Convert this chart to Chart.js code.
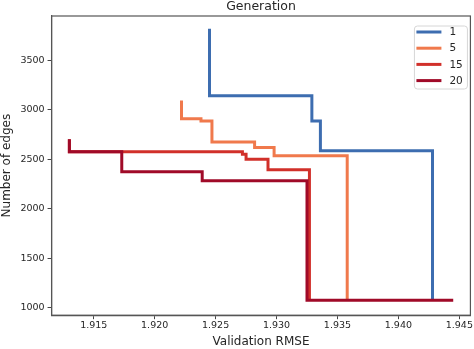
<!DOCTYPE html>
<html>
<head>
<meta charset="utf-8">
<script src="https://cdn.jsdelivr.net/npm/chart.js@4.4.1/dist/chart.umd.min.js"></script>
<style>
  html, body { margin: 0; padding: 0; background: #fff; }
  #wrap { width: 474px; height: 349px; }
</style>
</head>
<body>
<div id="wrap"><canvas id="generation-chart" width="474" height="349"></canvas></div>
<script>
// valores (vertices de cada escalon)
const seriesNames = ['1', '5', '15', '20'];
const seriesColors = ['#3d6db0', '#f0794c', '#d1302a', '#a00a28'];

const rmseGen1 = [1.9245, 1.9329, 1.9336, 1.9428, 1.9428];
const edgesGen1 = [3815, 3140, 2885, 2585, 1075];

const rmseGen5 = [1.9222, 1.9238, 1.9247, 1.9282, 1.9298, 1.9358, 1.9358];
const edgesGen5 = [3092, 2907, 2885, 2674, 2618, 2534, 1075];

const rmseGen15 = [1.9130, 1.9272, 1.9275, 1.9293, 1.9327, 1.9327];
const edgesGen15 = [2700, 2575, 2550, 2500, 2393, 1075];

const rmseGen20 = [1.9130, 1.9173, 1.9239, 1.9325, 1.9445];
const edgesGen20 = [2700, 2575, 2373, 2283, 1077];

const xTicks = [1.915, 1.920, 1.925, 1.930, 1.935, 1.940, 1.945];
const yTicks = [1000, 1500, 2000, 2500, 3000, 3500];

const rmseAll = [rmseGen1, rmseGen5, rmseGen15, rmseGen20];
const edgesAll = [edgesGen1, edgesGen5, edgesGen15, edgesGen20];

const textColor = '#262626';
const fontFamily = "'DejaVu Sans', sans-serif";

// marco completo alrededor del area (como matplotlib)
const framePlugin = {
  id: 'frame',
  afterDatasetsDraw(chart) {
    const { ctx, chartArea: a } = chart;
    ctx.save();
    ctx.strokeStyle = '#555';
    ctx.lineWidth = 1.2;
    ctx.strokeRect(a.left, a.top, a.right - a.left, a.bottom - a.top);
    ctx.restore();
  },
};

// titulo centrado sobre el area del grafico
const titlePlugin = {
  id: 'plotTitle',
  afterDraw(chart) {
    const { ctx, chartArea: a } = chart;
    ctx.save();
    ctx.fillStyle = textColor;
    ctx.font = '12.5px ' + fontFamily;
    ctx.textAlign = 'center';
    ctx.textBaseline = 'middle';
    ctx.fillText('Generation', (a.left + a.right) / 2, 7);
    ctx.restore();
  },
};

// leyenda dentro del area, arriba a la derecha
const legendPlugin = {
  id: 'insideLegend',
  afterDraw(chart) {
    const { ctx, chartArea: a } = chart;
    const sets = chart.data.datasets;
    const w = 53, rowH = 16.2, h = 63;
    const x0 = a.right - w - 3, y0 = a.top + 10;
    ctx.save();
    ctx.fillStyle = 'rgba(255,255,255,0.85)';
    ctx.strokeStyle = '#d6d6d6';
    ctx.lineWidth = 1;
    ctx.beginPath();
    ctx.roundRect(x0, y0, w, h, 3);
    ctx.fill();
    ctx.stroke();
    ctx.font = '10.5px ' + fontFamily;
    ctx.textBaseline = 'middle';
    sets.forEach((ds, i) => {
      const y = y0 + 6 + i * rowH;
      ctx.strokeStyle = ds.borderColor;
      ctx.lineWidth = 3;
      ctx.beginPath();
      ctx.moveTo(x0 + 2, y);
      ctx.lineTo(x0 + 27, y);
      ctx.stroke();
      ctx.fillStyle = textColor;
      ctx.fillText(ds.label, x0 + 35, y + 0.5);
    });
    ctx.restore();
  },
};

(async function () {
  new Chart(document.getElementById('generation-chart'), {
    type: 'scatter',
    plugins: [framePlugin, titlePlugin, legendPlugin],
    data: {
      datasets: seriesNames.map((name, i) => ({
        label: name,
        data: rmseAll[i].map((x, j) => ({ x: x, y: edgesAll[i][j] })),
        showLine: true,
        stepped: 'after', // primero vertical, luego horizontal
        borderColor: seriesColors[i],
        backgroundColor: seriesColors[i],
        borderWidth: 3,
        pointRadius: 0,
        borderJoinStyle: 'miter',
        borderCapStyle: 'butt',
        order: seriesNames.length - i, // la ultima serie queda encima
      })),
    },
    options: {
      responsive: false,
      animation: false,
      devicePixelRatio: 1,
      layout: {
        padding: { top: 16, right: 3, left: 0, bottom: 0 },
      },
      plugins: {
        legend: { display: false },
        tooltip: { enabled: false },
        title: { display: false },
      },
      scales: {
        x: {
          type: 'linear',
          min: 1.91154,
          max: 1.94591,
          afterBuildTicks: (scale) => {
            scale.ticks = xTicks.map((v) => ({ value: v }));
          },
          ticks: {
            color: textColor,
            font: { family: fontFamily, size: 9.5 },
            padding: 1,
            maxRotation: 0,
            autoSkip: false,
            callback: (v) => Number(v).toFixed(3),
          },
          grid: {
            drawOnChartArea: false,
            drawTicks: true,
            tickLength: 4,
            color: '#444',
          },
          border: { display: true, color: '#555', width: 1.2 },
          title: {
            display: true,
            text: 'Validation RMSE',
            color: textColor,
            font: { family: fontFamily, size: 12 },
            padding: { top: 2, bottom: 0 },
          },
        },
        y: {
          type: 'linear',
          min: 927,
          max: 3944,
          afterBuildTicks: (scale) => {
            scale.ticks = yTicks.map((v) => ({ value: v }));
          },
          ticks: {
            color: textColor,
            font: { family: fontFamily, size: 9.5 },
            padding: 3,
            autoSkip: false,
            callback: (v) => String(v), // sin separador de miles
          },
          grid: {
            drawOnChartArea: false,
            drawTicks: true,
            tickLength: 4,
            color: '#444',
          },
          border: { display: true, color: '#555', width: 1.2 },
          title: {
            display: true,
            text: 'Number of edges',
            color: textColor,
            font: { family: fontFamily, size: 12 },
            padding: { top: 0, bottom: 3 },
          },
        },
      },
    },
  });
})();
</script>
</body>
</html>
